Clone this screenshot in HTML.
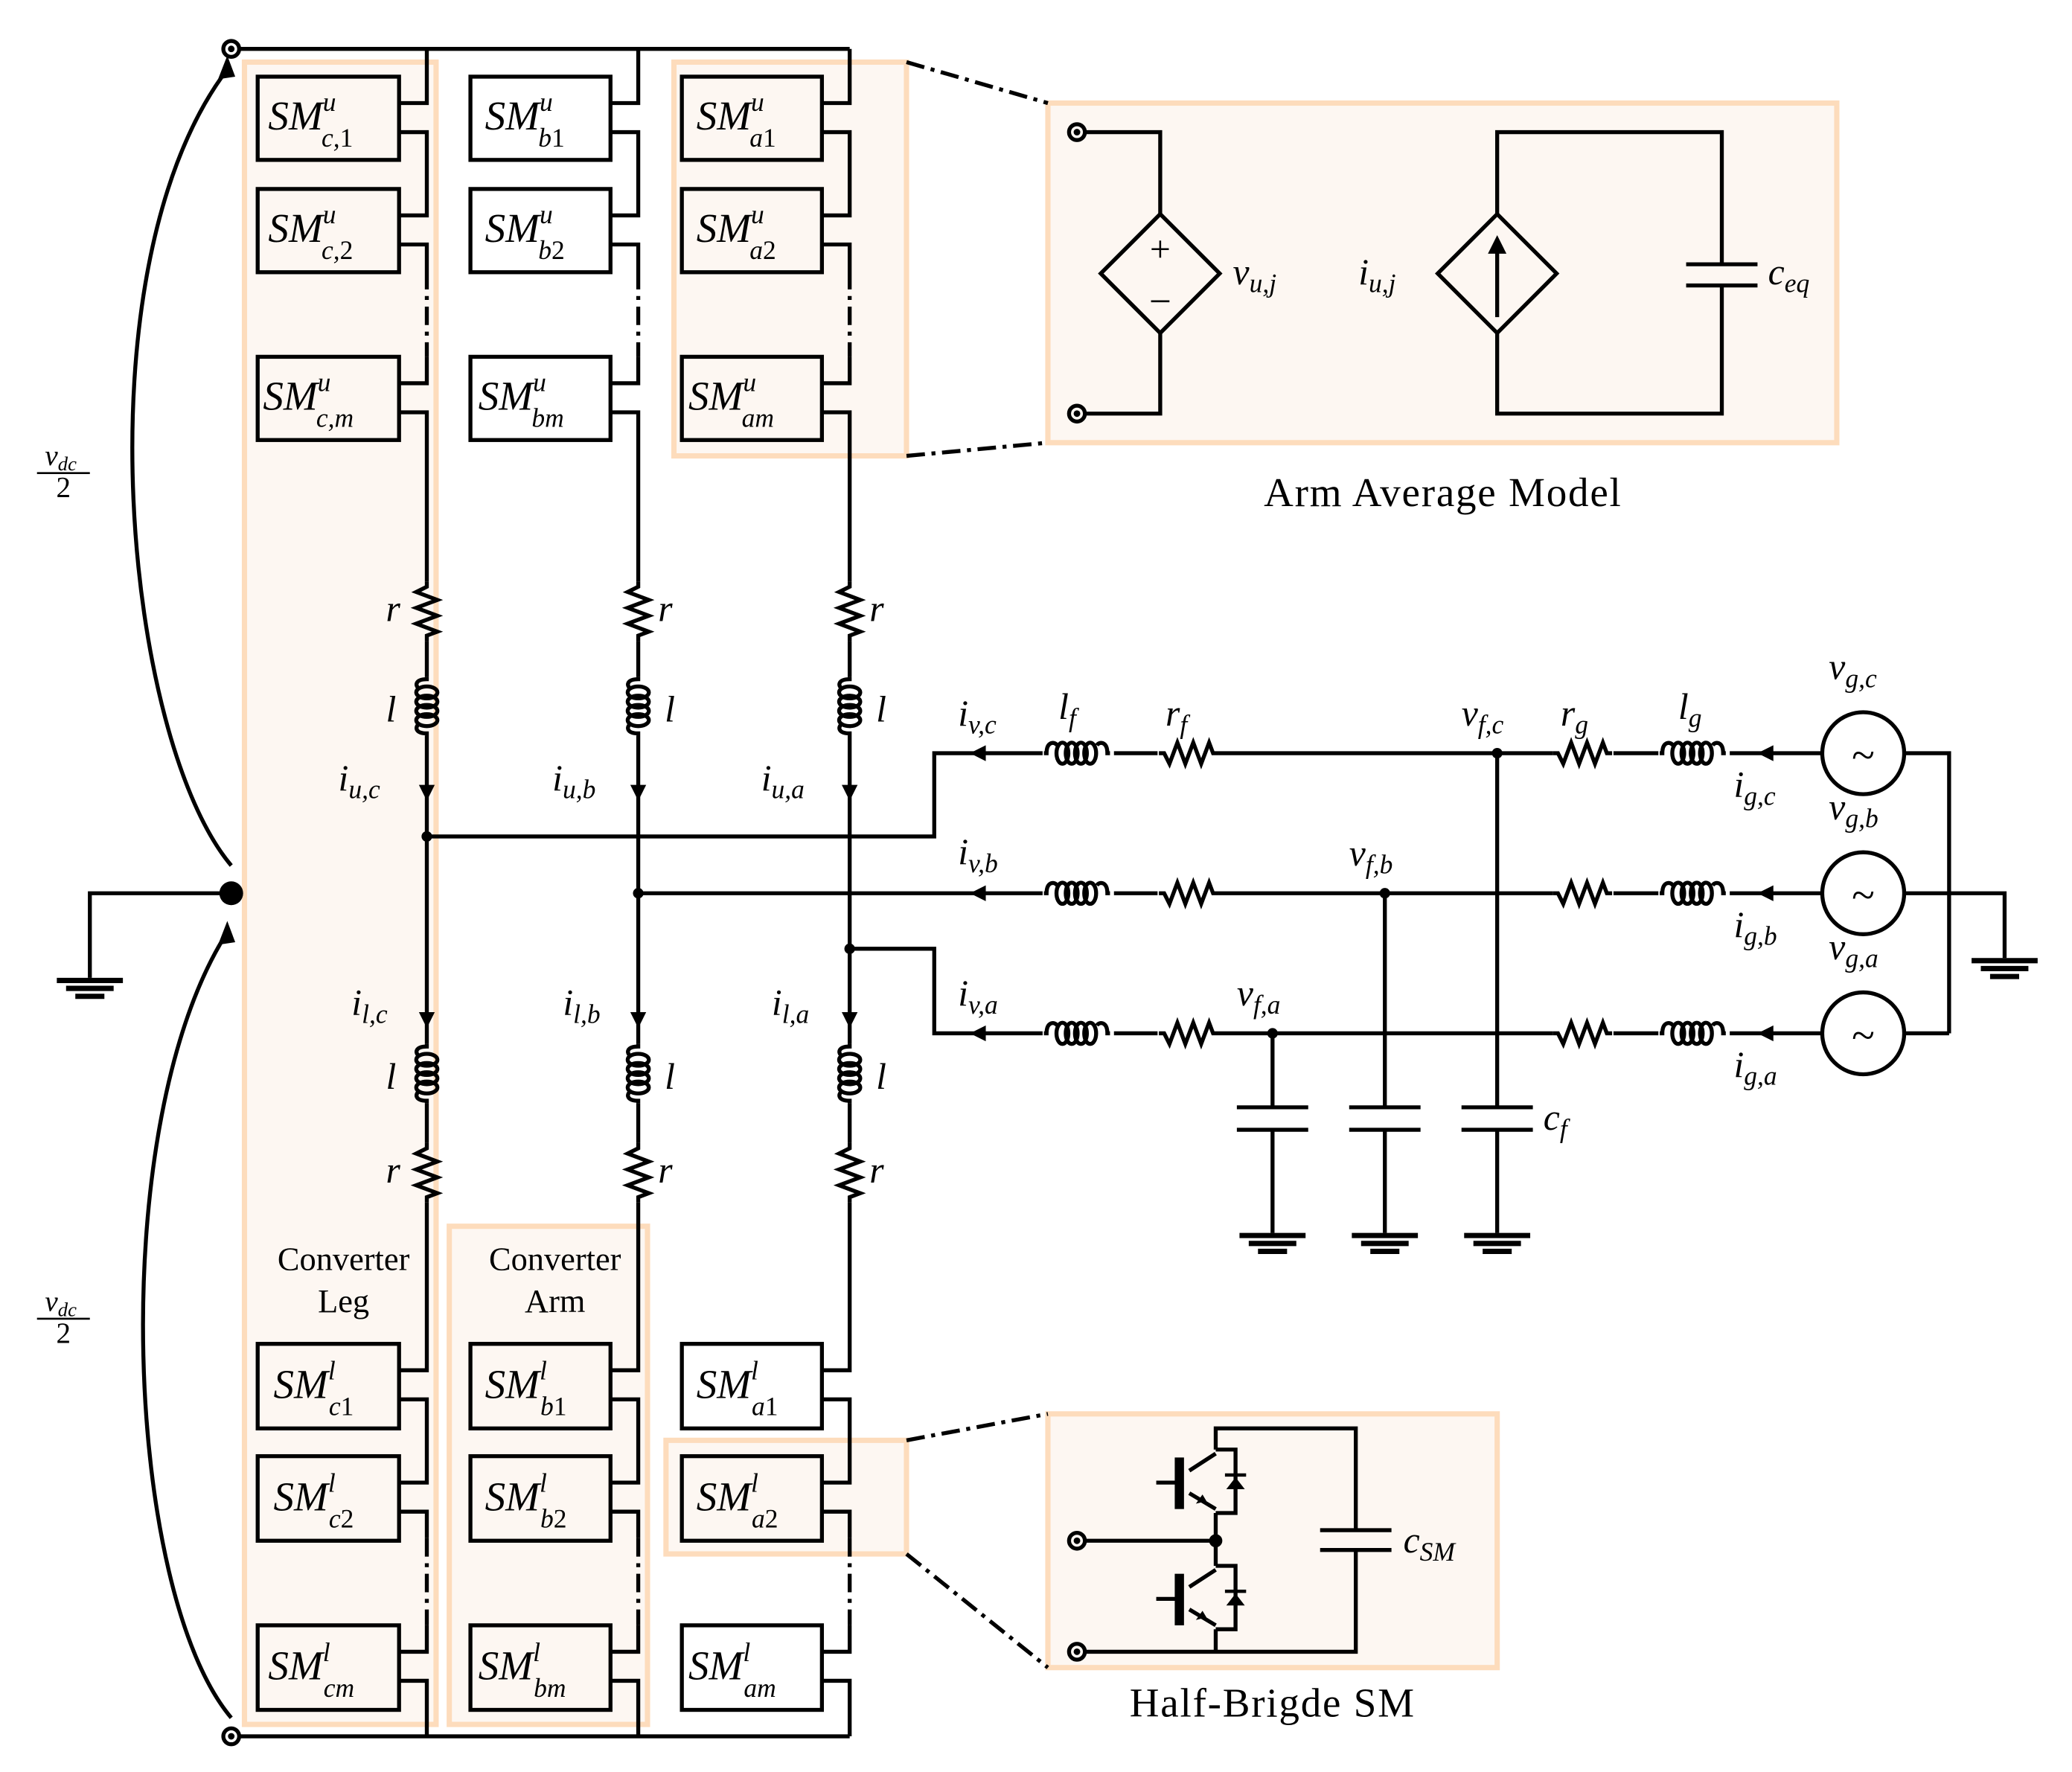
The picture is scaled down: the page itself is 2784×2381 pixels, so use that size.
<!DOCTYPE html>
<html><head><meta charset="utf-8"><style>
html,body{margin:0;padding:0;background:#fff}
svg{display:block}
text{font-family:"Liberation Serif",serif;font-style:italic;fill:#000}
.n{font-style:normal}
</style></head><body>
<svg width="2784" height="2381" viewBox="0 0 1568 1341" xmlns="http://www.w3.org/2000/svg">
<defs>
<path id="rv" d="M0,0 V4 L-8,8 L8,14 L-8,20 L8,26 L-8,32 L8,38 L0,41 V45" fill="none" stroke="#000" stroke-width="3"/>
<path id="rh" d="M0,0 H4 L8,8 L14,-8 L20,8 L26,-8 L32,8 L38,-8 L41,0 H45" fill="none" stroke="#000" stroke-width="3"/>
<g id="lv" fill="none" stroke="#000" stroke-width="3">
<path d="M0,0 V2 C-9,2 -9,7 -6,9 M0,45 V43 C-9,43 -9,38 -6,36"/>
<ellipse cx="0" cy="12" rx="8" ry="4.5"/><ellipse cx="0" cy="19" rx="8" ry="4.5"/><ellipse cx="0" cy="26" rx="8" ry="4.5"/><ellipse cx="0" cy="33" rx="8" ry="4.5"/>
</g>
<g id="lh" fill="none" stroke="#000" stroke-width="3">
<path d="M0,0 H2 C2,-9 8,-9 10,-6 M50,0 H48 C48,-9 42,-9 40,-6"/>
<ellipse cx="14" cy="0" rx="4.5" ry="8"/><ellipse cx="21" cy="0" rx="4.5" ry="8"/><ellipse cx="28" cy="0" rx="4.5" ry="8"/><ellipse cx="35" cy="0" rx="4.5" ry="8"/>
</g>
<g id="gnd"><line x1="-25" y1="0" x2="25" y2="0" stroke="#000" stroke-width="4"/><line x1="-18" y1="6" x2="18" y2="6" stroke="#000" stroke-width="4"/><line x1="-11" y1="12" x2="11" y2="12" stroke="#000" stroke-width="4"/></g>
<path id="adn" d="M-6,-12 L6,-12 L0,0 Z" fill="#000"/>
<path id="alf" d="M0,0 L12,-6 L12,6 Z" fill="#000"/>
</defs>
<rect width="1568" height="1341" fill="#fff"/>
<g fill="#fdf7f2" stroke="#fddcbc" stroke-width="4">
<rect x="185" y="47" width="145" height="1258"/>
<rect x="510" y="47" width="176" height="298"/>
<rect x="340" y="928" width="150" height="377"/>
<rect x="504" y="1090" width="182" height="86"/>
<rect x="793" y="78" width="597" height="257"/>
<rect x="793" y="1070" width="340" height="192"/>
</g>
<g stroke="#000" stroke-width="3" fill="none">
<path d="M181,37 H643 M181,1314 H643"/>
<path d="M323,37 V78 H302 M302,100 H323 V163 H302 M302,185 H323 V205 M302,290 H323 V270 M302,312 H323 V440 M323,485 V512 M323,557 V790 M323,835 V865 M323,910 V1037 H302 M302,1059 H323 V1122 H302 M302,1144 H323 V1164 M302,1250 H323 V1230 M302,1272 H323 V1314"/>
<path d="M483,37 V78 H462 M462,100 H483 V163 H462 M462,185 H483 V205 M462,290 H483 V270 M462,312 H483 V440 M483,485 V512 M483,557 V790 M483,835 V865 M483,910 V1037 H462 M462,1059 H483 V1122 H462 M462,1144 H483 V1164 M462,1250 H483 V1230 M462,1272 H483 V1314"/>
<path d="M643,37 V78 H622 M622,100 H643 V163 H622 M622,185 H643 V205 M622,290 H643 V270 M622,312 H643 V440 M643,485 V512 M643,557 V790 M643,835 V865 M643,910 V1037 H622 M622,1059 H643 V1122 H622 M622,1144 H643 V1164 M622,1250 H643 V1230 M622,1272 H643 V1314"/>
<g stroke-dasharray="14,5,3,5"><path d="M323,205 V270 M483,205 V270 M643,205 V270 M323,1164 V1230 M483,1164 V1230 M643,1164 V1230"/></g>
<g>
<rect x="195" y="58" width="107" height="63"/><rect x="195" y="143" width="107" height="63"/><rect x="195" y="270" width="107" height="63"/>
<rect x="356" y="58" width="106" height="63"/><rect x="356" y="143" width="106" height="63"/><rect x="356" y="270" width="106" height="63"/>
<rect x="516" y="58" width="106" height="63"/><rect x="516" y="143" width="106" height="63"/><rect x="516" y="270" width="106" height="63"/>
<rect x="195" y="1017" width="107" height="64"/><rect x="195" y="1102" width="107" height="64"/><rect x="195" y="1230" width="107" height="64"/>
<rect x="356" y="1017" width="106" height="64"/><rect x="356" y="1102" width="106" height="64"/><rect x="356" y="1230" width="106" height="64"/>
<rect x="516" y="1017" width="106" height="64"/><rect x="516" y="1102" width="106" height="64"/><rect x="516" y="1230" width="106" height="64"/>
</g>
<path d="M323,633 H707 V570 H1379 M1441,570 H1475 V782 M483,676 H1379 M1441,676 H1517 V725 M643,718 H707 V782 H1379 M1441,782 H1475"/>
<path d="M963,782 V838 M963,855 V933 M1048,676 V838 M1048,855 V933 M1133,570 V838 M1133,855 V933"/>
<path d="M936,838 H990 M936,855 H990 M1021,838 H1075 M1021,855 H1075 M1106,838 H1160 M1106,855 H1160"/>
<circle cx="1410" cy="570" r="31"/><circle cx="1410" cy="676" r="31"/><circle cx="1410" cy="782" r="31"/>
<path d="M170,676 H68 V740"/>
<path d="M175,655 C95,560 60,210 168,58"/>
<path d="M175,1300 C95,1205 80,860 168,712"/>
<circle cx="175" cy="37" r="6"/><circle cx="175" cy="1314" r="6"/>
<g stroke-dasharray="14,5,3,5"><path d="M686,47 L793,78 M686,345 L793,335 M686,1090 L793,1070 M686,1176 L793,1262"/></g>
<circle cx="815" cy="100" r="6"/><circle cx="815" cy="313" r="6"/>
<path d="M821,100 H878 V162 M878,252 V313 H821"/>
<path d="M878,162 L923,207 L878,252 L833,207 Z"/>
<path d="M1133,162 V100 H1303 V200 M1303,216 V313 H1133 V252"/>
<path d="M1133,162 L1178,207 L1133,252 L1088,207 Z"/>
<path d="M1133,240 V182"/>
<path d="M1276,200 H1330 M1276,216 H1330"/>
<circle cx="815" cy="1166" r="6"/><circle cx="815" cy="1250" r="6"/>
<path d="M821,1166 H920 M821,1250 H1026 V1173 M1026,1158 V1081 H920 V1097 M920,1145 V1185 M920,1233 V1250"/>
<path d="M999,1158 H1053 M999,1173 H1053"/>
<path d="M920,1097 H935 V1145 H920 M920,1185 H935 V1233 H920"/>
<path d="M920,1100 L900,1113 M920,1142 L900,1130 M920,1188 L900,1201 M920,1230 L900,1218"/>
<path d="M875,1122 H892 M875,1210 H892"/>
</g>
<g fill="#000">
<circle cx="815" cy="100" r="2.5"/><circle cx="815" cy="313" r="2.5"/><circle cx="815" cy="1166" r="2.5"/><circle cx="815" cy="1250" r="2.5"/><circle cx="175" cy="37" r="2.5"/><circle cx="175" cy="1314" r="2.5"/>
<rect x="889" y="1103" width="7" height="39"/><rect x="889" y="1191" width="7" height="39"/>
<path d="M928,1127 L942,1127 L935,1118 Z M928,1215 L942,1215 L935,1206 Z"/>
<rect x="927" y="1115" width="16" height="2.5"/><rect x="927" y="1203" width="16" height="2.5"/>
<path d="M913,1136 L905,1138 L910,1131 Z M913,1224 L905,1226 L910,1219 Z"/>
<circle cx="920" cy="1166" r="5"/>
<circle cx="175" cy="676" r="9"/>
<circle cx="323" cy="633" r="4"/><circle cx="483" cy="676" r="4"/><circle cx="643" cy="718" r="4"/>
<circle cx="1133" cy="570" r="4"/><circle cx="1048" cy="676" r="4"/><circle cx="963" cy="782" r="4"/>
<path d="M1133,178 L1126,192 L1140,192 Z"/>
<path d="M172,42 L165,60 L178,58 Z"/><path d="M172,697 L165,715 L178,713 Z"/>
</g>
<use href="#rv" x="323" y="440"/><use href="#rv" x="483" y="440"/><use href="#rv" x="643" y="440"/>
<use href="#lv" x="323" y="512"/><use href="#lv" x="483" y="512"/><use href="#lv" x="643" y="512"/>
<use href="#lv" x="323" y="790"/><use href="#lv" x="483" y="790"/><use href="#lv" x="643" y="790"/>
<use href="#rv" x="323" y="865"/><use href="#rv" x="483" y="865"/><use href="#rv" x="643" y="865"/>
<g fill="#fff"><rect x="789" y="558" width="54" height="24"/><rect x="789" y="664" width="54" height="24"/><rect x="789" y="770" width="54" height="24"/>
<rect x="876" y="558" width="46" height="24"/><rect x="876" y="664" width="46" height="24"/><rect x="876" y="770" width="46" height="24"/>
<rect x="1175" y="558" width="46" height="24"/><rect x="1175" y="664" width="46" height="24"/><rect x="1175" y="770" width="46" height="24"/>
<rect x="1255" y="558" width="54" height="24"/><rect x="1255" y="664" width="54" height="24"/><rect x="1255" y="770" width="54" height="24"/></g>
<use href="#lh" x="790" y="570"/><use href="#lh" x="790" y="676"/><use href="#lh" x="790" y="782"/>
<use href="#rh" x="877" y="570"/><use href="#rh" x="877" y="676"/><use href="#rh" x="877" y="782"/>
<use href="#rh" x="1175" y="570"/><use href="#rh" x="1175" y="676"/><use href="#rh" x="1175" y="782"/>
<use href="#lh" x="1256" y="570"/><use href="#lh" x="1256" y="676"/><use href="#lh" x="1256" y="782"/>
<use href="#gnd" x="68" y="742"/><use href="#gnd" x="1517" y="727"/><use href="#gnd" x="963" y="935"/><use href="#gnd" x="1048" y="935"/><use href="#gnd" x="1133" y="935"/>
<use href="#adn" x="323" y="606"/><use href="#adn" x="483" y="606"/><use href="#adn" x="643" y="606"/>
<use href="#adn" x="323" y="778"/><use href="#adn" x="483" y="778"/><use href="#adn" x="643" y="778"/>
<use href="#alf" x="734" y="570"/><use href="#alf" x="734" y="676"/><use href="#alf" x="734" y="782"/>
<use href="#alf" x="1330" y="570"/><use href="#alf" x="1330" y="676"/><use href="#alf" x="1330" y="782"/>
<g text-anchor="middle">
<text class="n" x="1410" y="582" font-size="32">~</text><text class="n" x="1410" y="688" font-size="32">~</text><text class="n" x="1410" y="794" font-size="32">~</text>
<text class="n" x="878" y="198" font-size="28">+</text><text class="n" x="878" y="238" font-size="30">−</text>
</g>
<g font-size="31">
<text x="203" y="98">SM<tspan font-size="20" dy="-14">u</tspan><tspan font-size="20" dx="-11" dy="27">c,<tspan class="n">1</tspan></tspan></text>
<text x="203" y="183">SM<tspan font-size="20" dy="-14">u</tspan><tspan font-size="20" dx="-11" dy="27">c,<tspan class="n">2</tspan></tspan></text>
<text x="199" y="310">SM<tspan font-size="20" dy="-14">u</tspan><tspan font-size="20" dx="-11" dy="27">c,m</tspan></text>
<text x="367" y="98">SM<tspan font-size="20" dy="-14">u</tspan><tspan font-size="20" dx="-11" dy="27">b<tspan class="n">1</tspan></tspan></text>
<text x="367" y="183">SM<tspan font-size="20" dy="-14">u</tspan><tspan font-size="20" dx="-11" dy="27">b<tspan class="n">2</tspan></tspan></text>
<text x="362" y="310">SM<tspan font-size="20" dy="-14">u</tspan><tspan font-size="20" dx="-11" dy="27">bm</tspan></text>
<text x="527" y="98">SM<tspan font-size="20" dy="-14">u</tspan><tspan font-size="20" dx="-11" dy="27">a<tspan class="n">1</tspan></tspan></text>
<text x="527" y="183">SM<tspan font-size="20" dy="-14">u</tspan><tspan font-size="20" dx="-11" dy="27">a<tspan class="n">2</tspan></tspan></text>
<text x="521" y="310">SM<tspan font-size="20" dy="-14">u</tspan><tspan font-size="20" dx="-11" dy="27">am</tspan></text>
<text x="207" y="1058">SM<tspan font-size="20" dy="-14">l</tspan><tspan font-size="20" dx="-5" dy="27">c<tspan class="n">1</tspan></tspan></text>
<text x="207" y="1143">SM<tspan font-size="20" dy="-14">l</tspan><tspan font-size="20" dx="-5" dy="27">c<tspan class="n">2</tspan></tspan></text>
<text x="203" y="1271">SM<tspan font-size="20" dy="-14">l</tspan><tspan font-size="20" dx="-5" dy="27">cm</tspan></text>
<text x="367" y="1058">SM<tspan font-size="20" dy="-14">l</tspan><tspan font-size="20" dx="-5" dy="27">b<tspan class="n">1</tspan></tspan></text>
<text x="367" y="1143">SM<tspan font-size="20" dy="-14">l</tspan><tspan font-size="20" dx="-5" dy="27">b<tspan class="n">2</tspan></tspan></text>
<text x="362" y="1271">SM<tspan font-size="20" dy="-14">l</tspan><tspan font-size="20" dx="-5" dy="27">bm</tspan></text>
<text x="527" y="1058">SM<tspan font-size="20" dy="-14">l</tspan><tspan font-size="20" dx="-5" dy="27">a<tspan class="n">1</tspan></tspan></text>
<text x="527" y="1143">SM<tspan font-size="20" dy="-14">l</tspan><tspan font-size="20" dx="-5" dy="27">a<tspan class="n">2</tspan></tspan></text>
<text x="521" y="1271">SM<tspan font-size="20" dy="-14">l</tspan><tspan font-size="20" dx="-5" dy="27">am</tspan></text>
</g>
<g font-size="28">
<text x="292" y="470">r</text><text x="498" y="470">r</text><text x="658" y="470">r</text>
<text x="292" y="546">l</text><text x="503" y="546">l</text><text x="663" y="546">l</text>
<text x="292" y="824">l</text><text x="503" y="824">l</text><text x="663" y="824">l</text>
<text x="292" y="895">r</text><text x="498" y="895">r</text><text x="658" y="895">r</text>
<text x="256" y="598">i<tspan font-size="20" dy="6">u,c</tspan></text>
<text x="418" y="598">i<tspan font-size="20" dy="6">u,b</tspan></text>
<text x="576" y="598">i<tspan font-size="20" dy="6">u,a</tspan></text>
<text x="266" y="768">i<tspan font-size="20" dy="6">l,c</tspan></text>
<text x="426" y="768">i<tspan font-size="20" dy="6">l,b</tspan></text>
<text x="584" y="768">i<tspan font-size="20" dy="6">l,a</tspan></text>
<text x="725" y="549">i<tspan font-size="20" dy="6">v,c</tspan></text>
<text x="725" y="654">i<tspan font-size="20" dy="6">v,b</tspan></text>
<text x="725" y="761">i<tspan font-size="20" dy="6">v,a</tspan></text>
<text x="801" y="544">l<tspan font-size="20" dy="6">f</tspan></text>
<text x="882" y="549">r<tspan font-size="20" dy="6">f</tspan></text>
<text x="1181" y="549">r<tspan font-size="20" dy="6">g</tspan></text>
<text x="1270" y="544">l<tspan font-size="20" dy="6">g</tspan></text>
<text x="1106" y="549">v<tspan font-size="20" dy="6">f,c</tspan></text>
<text x="1021" y="655">v<tspan font-size="20" dy="6">f,b</tspan></text>
<text x="936" y="761">v<tspan font-size="20" dy="6">f,a</tspan></text>
<text x="1168" y="855">c<tspan font-size="20" dy="6">f</tspan></text>
<text x="1384" y="514">v<tspan font-size="20" dy="6">g,c</tspan></text>
<text x="1384" y="620">v<tspan font-size="20" dy="6">g,b</tspan></text>
<text x="1384" y="726">v<tspan font-size="20" dy="6">g,a</tspan></text>
<text x="1312" y="603">i<tspan font-size="20" dy="6">g,c</tspan></text>
<text x="1312" y="709">i<tspan font-size="20" dy="6">g,b</tspan></text>
<text x="1312" y="815">i<tspan font-size="20" dy="6">g,a</tspan></text>
<text x="933" y="215">v<tspan font-size="20" dy="6">u,j</tspan></text>
<text x="1028" y="215">i<tspan font-size="20" dy="6">u,j</tspan></text>
<text x="1338" y="215">c<tspan font-size="20" dy="6">eq</tspan></text>
<text x="1062" y="1175">c<tspan font-size="20" dy="6">SM</tspan></text>
</g>
<g font-size="22" text-anchor="middle">
<text x="46" y="352">v<tspan font-size="15" dy="4">dc</tspan></text>
<text x="46" y="992">v<tspan font-size="15" dy="4">dc</tspan></text>
<text class="n" x="48" y="376">2</text><text class="n" x="48" y="1016">2</text>
</g>
<path d="M28,358 H68 M28,998 H68" stroke="#000" stroke-width="1.5"/>
<g font-size="25" text-anchor="middle">
<text class="n" x="260" y="961">Converter</text><text class="n" x="260" y="993">Leg</text>
<text class="n" x="420" y="961">Converter</text><text class="n" x="420" y="993">Arm</text>
</g>
<g font-size="31" text-anchor="middle">
<text class="n" x="1092" y="383" letter-spacing="1">Arm Average Model</text>
<text class="n" x="963" y="1299" letter-spacing="1">Half-Brigde SM</text>
</g>
</svg>
</body></html>
